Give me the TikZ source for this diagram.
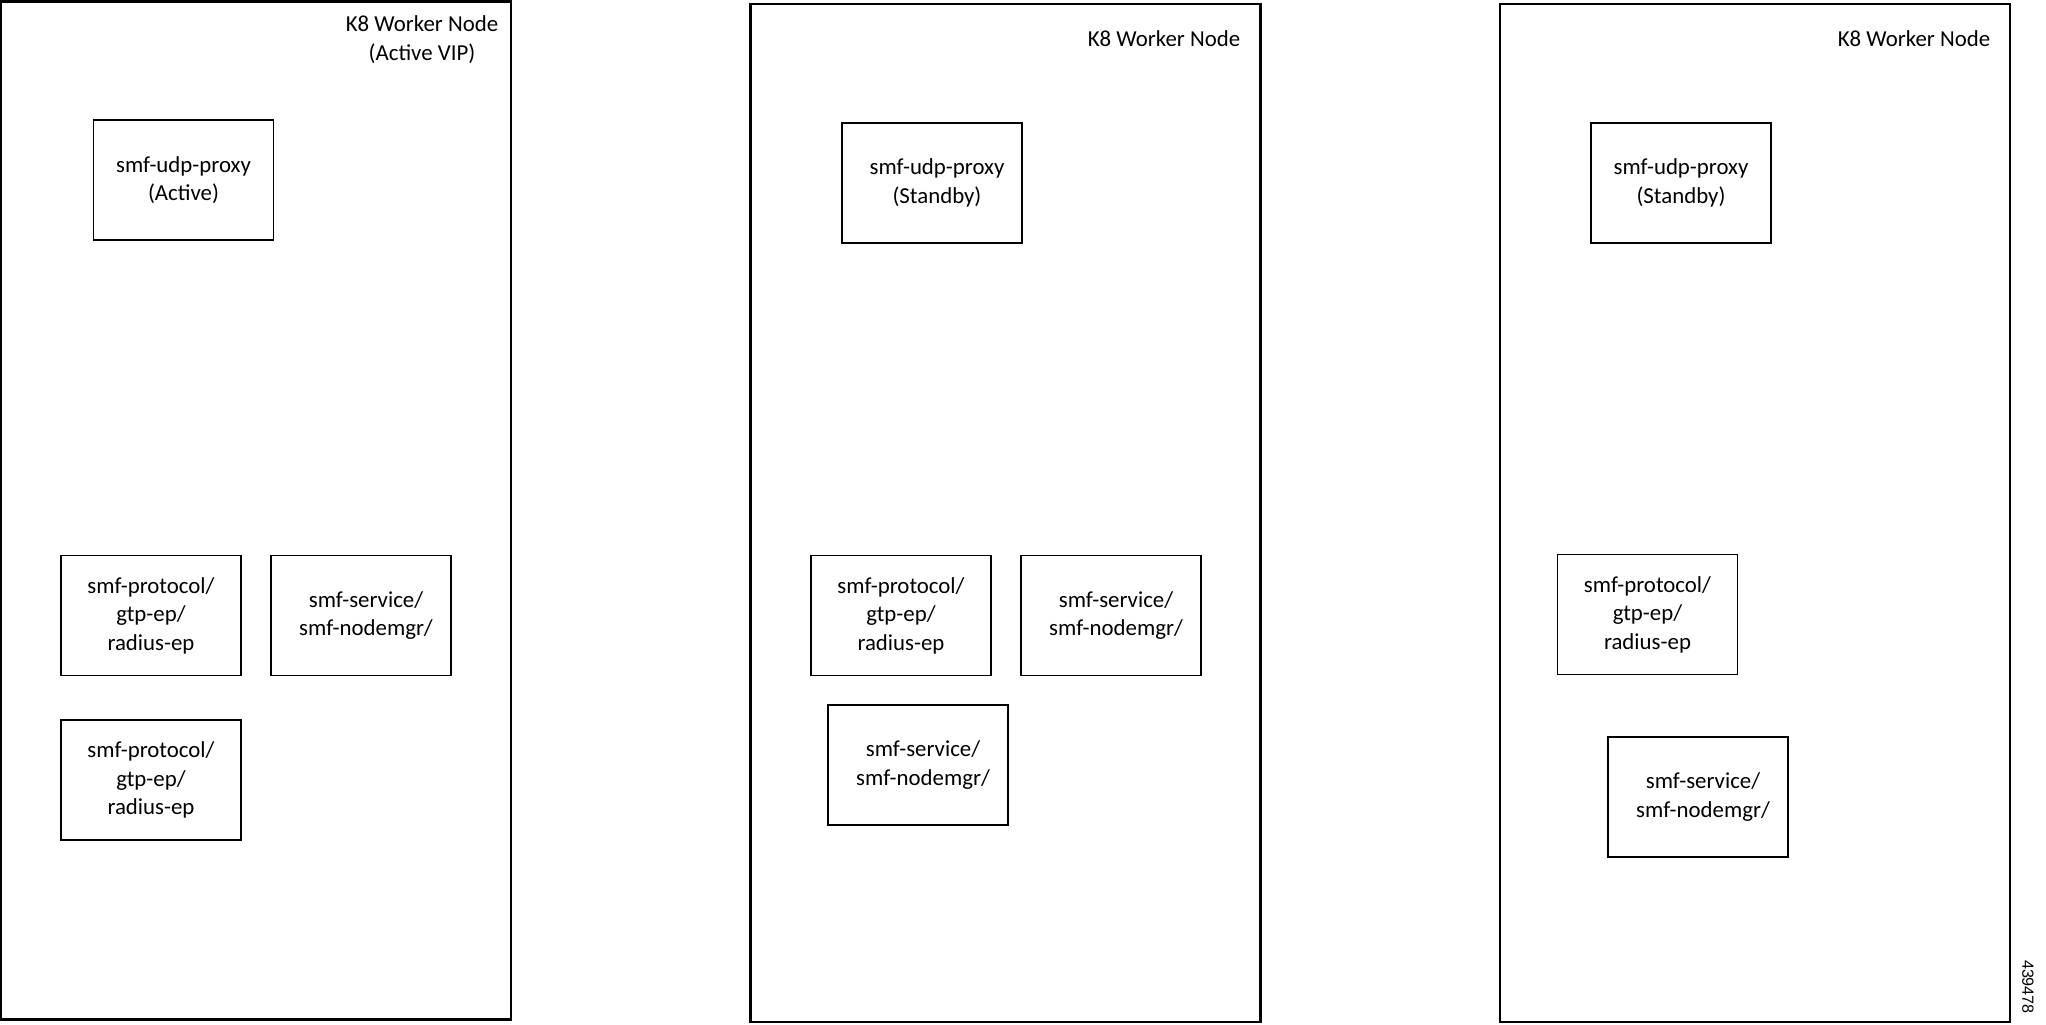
\documentclass[tikz,border=0pt]{standalone}
\usepackage{fontspec}
\setmainfont{Carlito}
\newfontfamily\tagfont{Liberation Sans}
\tikzset{
  worker/.style={draw, line width=1.3pt, minimum width=10.2cm, minimum height=20.36cm, inner sep=0pt},
  pod/.style={draw, line width=0.8pt, minimum width=3.6cm, minimum height=2.4cm, inner sep=0pt, align=center, font=\fontsize{13}{16.2}\selectfont},
  wlabel/.style={align=center, inner sep=0pt, font=\fontsize{13}{16.2}\selectfont}
}
\begin{document}
\begin{tikzpicture}
\useasboundingbox (0,0) rectangle (40.92,20.5);
\node[worker] (w1) at (5.12,10.29) {};
\node[worker] (w2) at (20.11,10.24) {};
\node[worker] (w3) at (35.10,10.24) {};
\node[wlabel] (l1) at (8.44,19.71) {K8 Worker Node\\(Active VIP)};
\node[wlabel] (l2) at (23.28,19.72) {K8 Worker Node};
\node[wlabel] (l3) at (38.28,19.72) {K8 Worker Node};
\node[pod] (u1) at (3.67,16.90) {smf-udp-proxy\\(Active)};
\node[pod] (p1) at (3.02,8.19) {smf-protocol/\\gtp-ep/\\radius-ep};
\node[pod] (s1) at (7.22,8.19) {\hspace{0.2cm}smf-service/\\\hspace{0.2cm}smf-nodemgr/};
\node[pod] (p2) at (3.02,4.90) {smf-protocol/\\gtp-ep/\\radius-ep};
\node[pod] (u2) at (18.64,16.84) {\hspace{0.2cm}smf-udp-proxy\\\hspace{0.2cm}(Standby)};
\node[pod] (p3) at (18.02,8.19) {smf-protocol/\\gtp-ep/\\radius-ep};
\node[pod] (s2) at (22.22,8.19) {\hspace{0.2cm}smf-service/\\\hspace{0.2cm}smf-nodemgr/};
\node[pod] (s3) at (18.36,5.20) {\hspace{0.2cm}smf-service/\\\hspace{0.2cm}smf-nodemgr/};
\node[pod] (u3) at (33.62,16.84) {smf-udp-proxy\\(Standby)};
\node[pod] (p4) at (32.95,8.21) {smf-protocol/\\gtp-ep/\\radius-ep};
\node[pod] (s4) at (33.96,4.56) {\hspace{0.2cm}smf-service/\\\hspace{0.2cm}smf-nodemgr/};
\node[rotate=-90, inner sep=0pt, font=\tagfont\fontsize{9.2}{11}\selectfont] (tag) at (40.56,0.76) {439478};
\end{tikzpicture}
\end{document}
